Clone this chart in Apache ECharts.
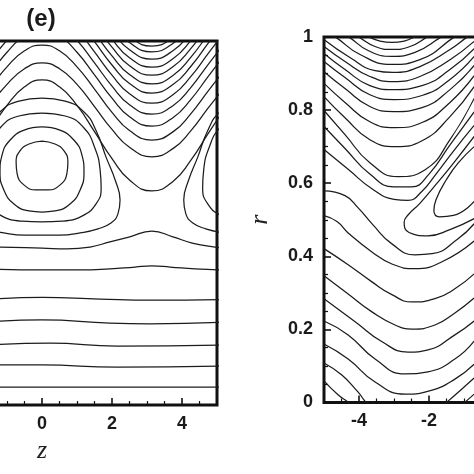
<!DOCTYPE html>
<html><head><meta charset="utf-8">
<script src="https://cdn.jsdelivr.net/npm/echarts@6.0.0/dist/echarts.min.js"></script>
<style>html,body{margin:0;padding:0;background:#fff}#c{width:474px;height:474px}</style>
</head><body><div id="c"></div>
<script>
// ---------- LEFT PANEL (e): wave-like streamlines, sampled along z ----------
const waveZ = [-1.5,-1,-0.5,0,0.5,1,1.5,2,2.5,3.14,3.75,4.25,4.75,5.25];
const waveR1  = [0.751,0.823,0.874,0.893,0.874,0.823,0.751,0.677,0.618,0.588,0.615,0.672,0.746,0.819];
const waveR2  = [0.820,0.881,0.924,0.940,0.924,0.881,0.820,0.757,0.708,0.682,0.705,0.753,0.816,0.877];
const waveR3  = [0.868,0.929,0.973,0.989,0.973,0.929,0.868,0.804,0.754,0.728,0.751,0.800,0.863,0.925];
const waveR4  = [0.907,0.969,1.014,1.030,1.014,0.969,0.907,0.843,0.792,0.766,0.790,0.839,0.903,0.966];
const waveR5  = [0.940,1.002,1.047,1.063,1.047,1.002,0.940,0.876,0.825,0.799,0.823,0.872,0.936,0.999];
const waveR6  = [0.970,1.032,1.077,1.093,1.077,1.032,0.970,0.906,0.855,0.829,0.853,0.902,0.966,1.029];
const waveR7  = [0.998,1.060,1.105,1.121,1.105,1.060,0.998,0.934,0.883,0.857,0.881,0.930,0.994,1.057];
const waveR8  = [1.023,1.085,1.130,1.146,1.130,1.085,1.023,0.959,0.908,0.882,0.906,0.955,1.019,1.082];
const waveR9  = [1.047,1.109,1.154,1.170,1.154,1.109,1.047,0.983,0.932,0.906,0.930,0.979,1.043,1.106];
const waveR10 = [1.069,1.131,1.176,1.192,1.176,1.131,1.069,1.005,0.954,0.928,0.952,1.001,1.065,1.128];
const waveR11 = [1.091,1.153,1.198,1.214,1.198,1.153,1.091,1.027,0.976,0.950,0.974,1.023,1.087,1.150];
const waveR12 = [1.111,1.173,1.218,1.234,1.218,1.173,1.111,1.047,0.996,0.970,0.994,1.043,1.107,1.170];
const waveR13 = [1.127,1.189,1.234,1.250,1.234,1.189,1.127,1.063,1.012,0.986,1.010,1.059,1.123,1.186];

// closed streamlines round the vortex at z = 0
const loop0 = [[0,0.725],[0.37,0.717],[0.63,0.698],[0.74,0.668],[0.71,0.635],[0.51,0.604],[0.17,0.591],[-0.17,0.591],[-0.51,0.604],[-0.71,0.635],[-0.74,0.668],[-0.63,0.698],[-0.37,0.717],[0,0.725]];
const loop2 = [[0,0.764],[0.51,0.755],[0.91,0.728],[1.14,0.687],[1.2,0.640],[1.09,0.591],[0.8,0.552],[0.37,0.533],[0,0.530],[-0.37,0.533],[-0.8,0.552],[-1.09,0.591],[-1.2,0.640],[-1.14,0.687],[-0.91,0.728],[-0.51,0.755],[0,0.764]];
const loop3 = [[0,0.802],[0.66,0.794],[1.2,0.761],[1.51,0.706],[1.66,0.646],[1.69,0.596],[1.54,0.552],[1.14,0.519],[0.57,0.505],[0,0.503],[-0.57,0.505],[-1.14,0.519],[-1.54,0.552],[-1.69,0.596],[-1.66,0.646],[-1.51,0.706],[-1.2,0.761],[-0.66,0.794],[0,0.802]];
const loop4 = [[0,0.843],[0.66,0.835],[1.2,0.805],[1.54,0.755],[1.83,0.681],[2.09,0.618],[2.23,0.563],[2.17,0.525],[1.97,0.500],[1.6,0.484],[1.09,0.473],[0.51,0.467],[0,0.467],[-0.51,0.467],[-1.09,0.473],[-1.6,0.484],[-1.97,0.500],[-2.17,0.525],[-2.23,0.563],[-2.09,0.618],[-1.83,0.681],[-1.54,0.755],[-1.2,0.805],[-0.66,0.835],[0,0.843]];
// closed streamlines round the next vortex (right edge)
const loop3b = [[6.28,0.802],[5.62,0.794],[5.08,0.761],[4.77,0.706],[4.62,0.646],[4.59,0.596],[4.74,0.552],[5.14,0.519],[5.71,0.505],[6.28,0.503]];
const loop4b = [[6.28,0.843],[5.62,0.835],[5.08,0.805],[4.74,0.755],[4.45,0.681],[4.19,0.618],[4.05,0.563],[4.11,0.525],[4.31,0.500],[4.68,0.484],[5.19,0.473],[5.77,0.467],[6.28,0.467]];
// nearly flat streamlines under the vortices
const flat1 = [[-1.5,0.434],[-1.2,0.434],[0,0.431],[0.71,0.429],[1.37,0.434],[1.94,0.448],[2.51,0.462],[3.14,0.478],[3.74,0.462],[4.29,0.445],[4.94,0.434],[5.3,0.431]];
const flat2 = [[-1.5,0.374],[0,0.371],[1.09,0.371],[1.94,0.374],[2.66,0.379],[3.14,0.382],[3.66,0.379],[4.37,0.374],[5.3,0.371]];
const flat3 = [[-1.5,0.290],[0,0.296],[1.66,0.291],[3.14,0.288],[5.3,0.290]];
const flat4 = [[-1.5,0.228],[0,0.234],[1.94,0.225],[3.09,0.223],[5.3,0.228]];
const flat5 = [[-1.5,0.165],[0.23,0.170],[2.14,0.162],[5.3,0.165]];
const flat6 = [[-1.5,0.110],[0,0.110],[2.14,0.104],[5.3,0.107]];
const flat7 = [[-1.5,0.049],[5.3,0.049]];

// ---------- RIGHT PANEL ----------
const rU1  = [[-3.91,1.012],[-3.74,1.001],[-3.4,0.989],[-3.06,0.985],[-2.71,0.989],[-2.4,1.001],[-2.23,1.012]];
const rU2  = [[-4.26,1.012],[-4.03,1.001],[-3.54,0.974],[-3.06,0.966],[-2.54,0.974],[-2.03,1.001],[-1.8,1.012]];
const rU3  = [[-4.6,1.012],[-4.31,1.001],[-3.74,0.963],[-3.06,0.947],[-2.4,0.958],[-1.63,1.001],[-1.4,1.012]];
const rU4  = [[-4.94,1.012],[-4.69,1.001],[-3.97,0.952],[-3.06,0.925],[-2.26,0.938],[-1.26,1.001],[-1.06,1.012]];
const rU5  = [[-5.17,1.012],[-5,0.993],[-4.26,0.944],[-3.54,0.908],[-3.03,0.903],[-2.26,0.919],[-1.4,0.966],[-0.89,1.001],[-0.69,1.012]];
const rU6  = [[-5,0.974],[-4.4,0.933],[-3.69,0.892],[-3.03,0.878],[-2.26,0.892],[-1.4,0.938],[-0.71,0.988]];
const rU7  = [[-5,0.955],[-4.4,0.911],[-3.69,0.867],[-3.03,0.856],[-2.2,0.867],[-1.4,0.911],[-0.71,0.968]];
const rU8  = [[-5,0.933],[-4.4,0.889],[-3.69,0.842],[-3,0.829],[-2.2,0.840],[-1.4,0.884],[-0.71,0.947]];
const rU9  = [[-5,0.905],[-4.4,0.859],[-3.69,0.810],[-3,0.796],[-2.2,0.807],[-1.4,0.856],[-0.71,0.922]];
const rU10 = [[-5,0.873],[-4.4,0.821],[-3.69,0.768],[-2.97,0.752],[-2.2,0.766],[-1.4,0.821],[-0.71,0.894]];
const rU11 = [[-5,0.837],[-4.4,0.779],[-3.69,0.719],[-2.94,0.700],[-2.2,0.716],[-1.4,0.782],[-0.71,0.864]];
const rU12 = [[-5,0.799],[-4.4,0.733],[-3.69,0.656],[-2.89,0.618],[-2.11,0.637],[-1.4,0.719],[-0.71,0.832]];
const rU13 = [[-5,0.755],[-4.4,0.695],[-3.69,0.625],[-3.0,0.590],[-2.5,0.590],[-2.0,0.625],[-1.4,0.705],[-0.71,0.795]];
const rU14 = [[-5,0.692],[-4.31,0.638],[-3.63,0.585],[-3.0,0.556],[-2.6,0.553],[-2.2,0.578],[-1.8,0.625],[-1.3,0.688],[-0.71,0.758]];
const rT2  = [[-0.71,0.728],[-1.26,0.660],[-1.77,0.600],[-2.26,0.545],[-2.6,0.513],[-2.71,0.493],[-2.57,0.465],[-2.03,0.456],[-1.4,0.473],[-0.71,0.503]];
const rT1  = [[-0.71,0.70],[-1.17,0.655],[-1.5,0.61],[-1.8,0.555],[-1.86,0.525],[-1.7,0.508],[-1.3,0.512],[-0.71,0.55]];
const rA = [[-5,0.579],[-4.4,0.566],[-4.03,0.533],[-3.6,0.486],[-3.06,0.434],[-2.4,0.404],[-1.91,0.407],[-1.17,0.448],[-0.71,0.489]];
const rB = [[-5,0.511],[-4.63,0.495],[-4.31,0.464],[-3.63,0.412],[-3.06,0.379],[-2.4,0.366],[-1.63,0.385],[-0.71,0.442]];
const rC = [[-5,0.421],[-4.31,0.377],[-3.63,0.330],[-3.06,0.295],[-2.49,0.275],[-1.83,0.284],[-1.26,0.311],[-0.71,0.352]];
const rD = [[-5,0.347],[-4.31,0.297],[-3.63,0.248],[-2.97,0.212],[-2.49,0.201],[-1.83,0.212],[-1.26,0.245],[-0.71,0.286]];
const rE = [[-5,0.284],[-4.11,0.221],[-3.34,0.166],[-2.6,0.138],[-2.03,0.144],[-1.26,0.185],[-0.71,0.223]];
const rF = [[-5,0.223],[-4.31,0.185],[-3.54,0.119],[-2.69,0.078],[-2.03,0.084],[-1.26,0.119],[-0.71,0.168]];
const rG = [[-5,0.160],[-4.31,0.119],[-3.54,0.056],[-2.69,0.023],[-1.91,0.034],[-1.26,0.064],[-0.71,0.105]];
const rH = [[-5,0.108],[-4.49,0.075],[-4.03,0.029],[-3.69,-0.007],[-2.6,-0.048],[-1.97,-0.034],[-1.49,0.001],[-1.06,0.037],[-0.71,0.067]];
const rI = [[-5,0.059],[-4.6,0.021],[-4.31,0.001],[-3.83,-0.034],[-2.6,-0.062],[-1.4,-0.034],[-0.97,0.001],[-0.71,0.023]];

const ink = '#1c1c1c';
function streamline(data, g) {
  return { type: 'line', xAxisIndex: g, yAxisIndex: g, data: data, smooth: 0.5,
    symbol: 'none', clip: true, silent: true, animation: false,
    lineStyle: { color: ink, width: 1.25 } };
}
const series = [];
[waveR1,waveR2,waveR3,waveR4,waveR5,waveR6,waveR7,waveR8,waveR9,waveR10,waveR11,waveR12,waveR13]
  .forEach(rs => series.push(streamline(waveZ.map((z, i) => [z, rs[i]]), 0)));
[loop0,loop2,loop3,loop4,loop3b,loop4b,flat1,flat2,flat3,flat4,flat5,flat6,flat7]
  .forEach(d => series.push(streamline(d, 0)));
[rU1,rU2,rU3,rU4,rU5,rU6,rU7,rU8,rU9,rU10,rU11,rU12,rU13,rU14,rT2,rT1,rA,rB,rC,rD,rE,rF,rG,rH,rI]
  .forEach(d => series.push(streamline(d, 1)));

const labelStyle = { color: '#1a1a1a', fontSize: 18, fontWeight: 'bold', fontFamily: 'Liberation Sans, Arial, sans-serif' };
const tickStyle = { inside: true, length: 7, lineStyle: { color: '#111', width: 1.6 } };
const minorStyle = { show: true, splitNumber: 4, length: 4, lineStyle: { color: '#111', width: 1.2 } };
const italicName = { fontFamily: 'Liberation Serif, Times New Roman, serif', fontStyle: 'italic', fontSize: 26, color: '#222' };

function xAx(g) {
  return { gridIndex: g, type: 'value', min: -5, max: 5, name: 'z', nameLocation: 'middle', nameGap: 32,
    position: 'bottom',
    nameTextStyle: italicName, axisLine: { show: false, onZero: false }, axisTick: tickStyle, minorTick: minorStyle,
    splitLine: { show: false }, minorSplitLine: { show: false },
    axisLabel: Object.assign({ margin: 10, showMinLabel: false, showMaxLabel: false }, labelStyle) };
}
function yAx(g) {
  return { gridIndex: g, type: 'value', min: 0, max: 1, interval: 0.2, name: g === 1 ? 'r' : '',
    position: 'left',
    nameLocation: 'middle', nameRotate: 90, nameGap: 51, nameTextStyle: italicName,
    axisLine: { show: false, onZero: false }, axisTick: tickStyle, minorTick: minorStyle,
    splitLine: { show: false }, minorSplitLine: { show: false },
    axisLabel: Object.assign({ margin: 11 }, labelStyle) };
}

const chart = echarts.init(document.getElementById('c'), null, { renderer: 'canvas' });
chart.setOption({
  animation: false,
  backgroundColor: '#ffffff',
  grid: [
    { left: -133, top: 41, width: 350, height: 364, show: true, borderColor: '#111', borderWidth: 3,
      containLabel: false, outerBoundsMode: 'none' },
    { left: 324, top: 37, width: 350, height: 365.5, show: true, borderColor: '#111', borderWidth: 3,
      containLabel: false, outerBoundsMode: 'none' }
  ],
  xAxis: [xAx(0), xAx(1)],
  yAxis: [yAx(0), yAx(1)],
  graphic: [{ type: 'text', x: 41, y: 19,
    style: { text: '(e)', font: 'bold 24px "Liberation Sans", Arial, sans-serif', fill: '#1a1a1a',
             textAlign: 'center', textVerticalAlign: 'middle' } }],
  series: series
});
</script></body></html>
